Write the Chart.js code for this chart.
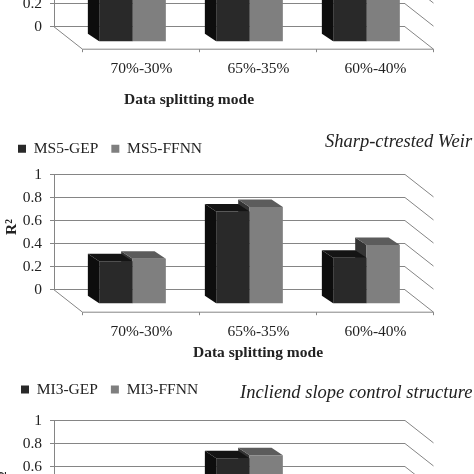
<!DOCTYPE html>
<html>
<head>
<meta charset="utf-8">
<script src="https://cdn.jsdelivr.net/npm/chart.js@4/dist/chart.umd.min.js"></script>
<style>
html,body{margin:0;padding:0;background:#fff;width:474px;height:474px;overflow:hidden}
#wrap{position:relative;width:474px;height:474px;overflow:hidden}
canvas{position:absolute;left:0;top:0;filter:blur(.45px)}
</style>
</head>
<body>
<div id="wrap"></div>
<script>
const categories = ['70%-30%', '65%-35%', '60%-40%'];
const topGep = [0.80, 0.82, 0.76];
const topFfnn = [0.82, 0.84, 0.78];
const ms5Gep = [0.37, 0.80, 0.40];
const ms5Ffnn = [0.39, 0.84, 0.51];
const mi3Gep = [0.40, 0.795, 0.40];
const mi3Ffnn = [0.42, 0.82, 0.45];
const yTickLabels = ['0', '0.2', '0.4', '0.6', '0.8', '1'];

const FONT = '"Liberation Serif", "Times New Roman", serif';
const TEXT = '#222222', LINE = '#858585';
const CANVAS_H = 276, TOP_EXTRA = 20, LEGEND_PAD = 13, LEGEND_H = 38.5;
const FLOOR = {dx: 28.5, dy: 22.4}, BAR = {dx: 20, depthX: 11.3, depthY: 7.5};
const FACES = [
  {front: '#292929', side: '#0d0d0d', top: '#141414'},
  {front: '#7f7f7f', side: '#343434', top: '#5c5c5c'}
];

function poly(ctx, pts, fill) {
  ctx.fillStyle = fill;
  ctx.beginPath();
  pts.forEach((p, i) => i ? ctx.lineTo(p[0], p[1]) : ctx.moveTo(p[0], p[1]));
  ctx.closePath();
  ctx.fill();
}

const scenePlugin = {
  id: 'scene',
  afterLayout(chart, args, o) {
    if (chart.legend && o.legendGap) {
      chart.legend.top = chart.chartArea.top - o.legendGap - 7.75 - LEGEND_PAD;
      chart.legend.left = o.legendX - LEGEND_PAD;
    }
  },
  beforeDatasetsDraw(chart, args, o) {
    const {ctx, chartArea: a, scales: {x, y}} = chart;
    ctx.save();
    ctx.strokeStyle = LINE;
    ctx.lineWidth = 1;
    const fb = a.bottom + FLOOR.dy;
    ctx.beginPath();
    y.ticks.forEach(t => {
      const py = y.getPixelForValue(t.value);
      ctx.moveTo(a.right, py);
      ctx.lineTo(a.right + FLOOR.dx, py + FLOOR.dy);
    });
    ctx.moveTo(a.left, a.bottom);
    ctx.lineTo(a.left + FLOOR.dx, fb);
    ctx.lineTo(a.right + FLOOR.dx, fb);
    const w = a.width / categories.length;
    for (let i = 0; i <= categories.length; i++) {
      ctx.moveTo(a.left + FLOOR.dx + i * w, fb);
      ctx.lineTo(a.left + FLOOR.dx + i * w, fb + 3);
    }
    ctx.stroke();
    ctx.restore();

    ctx.save();
    ctx.translate(BAR.dx, o.barDy);
    [1, 0].forEach(ds => {
      const f = FACES[ds];
      chart.getDatasetMeta(ds).data.forEach(b => {
        const l = b.x - b.width / 2, r = b.x + b.width / 2;
        const dx = BAR.depthX, dy = BAR.depthY;
        poly(ctx, [[l, b.y], [l - dx, b.y - dy], [l - dx, b.base - dy], [l, b.base]], f.side);
        poly(ctx, [[l, b.y], [l - dx, b.y - dy], [r - dx, b.y - dy], [r, b.y]], f.top);
      });
    });
  },
  afterDatasetsDraw(chart) {
    chart.ctx.restore();
  },
  afterDraw(chart, args, o) {
    const {ctx, chartArea: a} = chart;
    ctx.save();
    ctx.fillStyle = TEXT;
    ctx.textBaseline = 'middle';
    if (o.xTitle) {
      ctx.font = 'bold 15.5px ' + FONT;
      ctx.textAlign = 'center';
      ctx.fillText(o.xTitle, o.xTitleX, a.bottom + o.xTitleDy);
    }
    if (o.yTitle) {
      ctx.save();
      ctx.font = 'bold 15.5px ' + FONT;
      ctx.textAlign = 'center';
      ctx.translate(o.yTitleX, a.top + o.yTitleDy);
      ctx.rotate(-Math.PI / 2);
      ctx.fillText(o.yTitle, 0, 0);
      ctx.restore();
    }
    if (o.note) {
      ctx.font = 'italic 18.5px ' + FONT;
      ctx.textAlign = 'left';
      ctx.fillText(o.note, o.noteX, a.top - o.noteGap);
    }
    ctx.restore();
  }
};

function build(cfg) {
  const c = document.createElement('canvas');
  c.width = 474;
  c.height = CANVAS_H;
  const box = document.createElement('div');
  box.style.cssText = 'position:absolute;left:0;width:474px;height:' + CANVAS_H + 'px;top:' + (cfg.top - TOP_EXTRA) + 'px';
  box.appendChild(c);
  document.getElementById('wrap').appendChild(box);
  return new Chart(c, {
    type: 'bar',
    data: {
      labels: categories,
      datasets: [
        {label: cfg.names[0], data: cfg.a, backgroundColor: FACES[0].front, clip: false},
        {label: cfg.names[1], data: cfg.b, backgroundColor: FACES[1].front, clip: false}
      ]
    },
    options: {
      responsive: false,
      animation: false,
      devicePixelRatio: 1,
      categoryPercentage: 0.57,
      barPercentage: 1,
      layout: {padding: {left: 0, right: 69, top: TOP_EXTRA + (cfg.legend ? 0 : LEGEND_H), bottom: 0}},
      plugins: {
        tooltip: {enabled: false},
        title: {display: false},
        legend: {
          display: !!cfg.legend,
          position: 'top',
          align: 'start',
          labels: {
            boxWidth: 8, boxHeight: 8, padding: LEGEND_PAD, color: TEXT,
            font: {family: FONT, size: 15.5}
          }
        },
        scene: cfg.scene
      },
      scales: {
        x: {
          grid: {display: false},
          border: {display: false},
          afterFit(s) { s.height = CANVAS_H - TOP_EXTRA - LEGEND_H - 115.3; },
          ticks: {
            display: cfg.xTicks,
            labelOffset: 29, padding: 24.5, color: TEXT, autoSkip: false, maxRotation: 0,
            font: {family: FONT, size: 15.5}
          }
        },
        y: {
          min: 0, max: 1,
          afterFit(s) { s.width = 54; },
          border: {display: true, color: LINE},
          grid: {color: LINE, lineWidth: 1, tickLength: 4},
          ticks: {
            stepSize: 0.2, padding: 8, color: TEXT,
            font: {family: FONT, size: 15.5},
            callback: (v, i) => yTickLabels[i]
          }
        }
      }
    },
    plugins: [scenePlugin]
  });
}

build({
  top: -127.3, names: ['GEP', 'FFNN'], a: topGep, b: topFfnn, legend: false, xTicks: true,
  scene: {barDy: 15, xTitle: 'Data splitting mode', xTitleX: 189, xTitleDy: 73}
});
build({
  top: 135.5, names: ['MS5-GEP', 'MS5-FFNN'], a: ms5Gep, b: ms5Ffnn, legend: true, xTicks: true,
  scene: {
    barDy: 14, legendGap: 25.7, legendX: 18,
    xTitle: 'Data splitting mode', xTitleX: 258, xTitleDy: 63,
    yTitle: 'R²', yTitleX: 11.5, yTitleDy: 52.5,
    note: 'Sharp-ctrested Weir', noteX: 325, noteGap: 32.3
  }
});
build({
  top: 381.5, names: ['MI3-GEP', 'MI3-FFNN'], a: mi3Gep, b: mi3Ffnn, legend: true, xTicks: false,
  scene: {
    barDy: 14, legendGap: 31, legendX: 21,
    yTitle: 'R²', yTitleX: 5.5, yTitleDy: 59,
    note: 'Incliend slope control structure', noteX: 240, noteGap: 27
  }
});
</script>
</body>
</html>
